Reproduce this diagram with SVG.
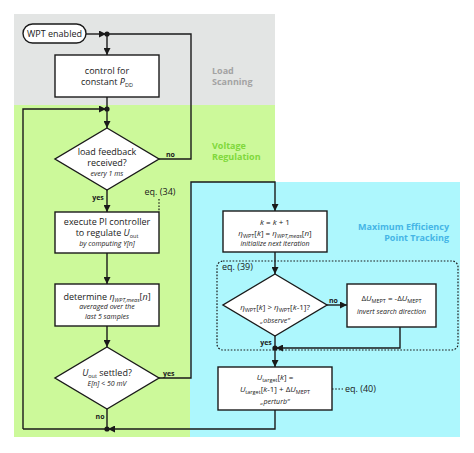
<svg xmlns="http://www.w3.org/2000/svg" width="474" height="453" viewBox="0 0 474 453">
<style>
text{font-family:"Open Sans","Noto Sans","DejaVu Sans",sans-serif;fill:#1a1a1a;font-size:9px}
.m{text-anchor:middle}
.i{font-style:italic}
.s{font-size:7px;font-style:italic}
.r{font-size:8px}
.b{font-weight:bold;font-size:7px}
.lbl{font-weight:bold;font-size:9px}
.box{fill:#fff;stroke:#1a1a1a;stroke-width:1.4}
.ln{fill:none;stroke:#1a1a1a;stroke-width:1.4}
.dot{fill:none;stroke:#1a1a1a;stroke-width:1.2;stroke-dasharray:1.6 1.6}
.sub{font-size:5.5px}
</style>
<defs>
<marker id="ah" viewBox="0 0 10 10" refX="10" refY="5" markerWidth="7" markerHeight="7" markerUnits="userSpaceOnUse" orient="auto">
<path d="M0,0L10,5L0,10z" fill="#1a1a1a"/>
</marker>
</defs>
<g id="panels">
<rect x="14" y="14" width="261" height="91" fill="#e3e5e4"/>
<path d="M14,105H275V182H190V437H14z" fill="#ccf99a"/>
<rect x="190" y="182" width="270" height="255" fill="#adf7fd"/>
<text x="212" y="74" class="lbl" fill="#a3a3a3" style="fill:#a3a3a3">Load</text>
<text x="212" y="84.5" class="lbl" style="fill:#a3a3a3">Scanning</text>
<text x="212" y="149" class="lbl" style="fill:#80d83c">Voltage</text>
<text x="212" y="160" class="lbl" style="fill:#80d83c">Regulation</text>
<text x="449" y="230" class="lbl" style="fill:#45b5e6;text-anchor:end">Maximum Efficiency</text>
<text x="449" y="241" class="lbl" style="fill:#45b5e6;text-anchor:end">Point Tracking</text>
</g>
<g id="connectors">
<path class="ln" d="M86,34H106" marker-end="url(#ah)"/>
<path class="ln" d="M159,159H191V34H107"/>
<path class="ln" d="M107,34V55" marker-end="url(#ah)"/>
<path class="ln" d="M107,97V109"/>
<path class="ln" d="M23,429V109H106" marker-end="url(#ah)"/>
<path class="ln" d="M107,109V128" marker-end="url(#ah)"/>
<path class="ln" d="M107,190V212" marker-end="url(#ah)"/>
<path class="ln" d="M107,253V284" marker-end="url(#ah)"/>
<path class="ln" d="M107,326V347" marker-end="url(#ah)"/>
<path class="ln" d="M107,409V429H23"/>
<path class="ln" d="M159,378H191V182H275V211" marker-end="url(#ah)"/>
<path class="ln" d="M275,252V274" marker-end="url(#ah)"/>
<path class="ln" d="M327,305H347" marker-end="url(#ah)"/>
<path class="ln" d="M400,327V348H276" marker-end="url(#ah)"/>
<path class="ln" d="M275,336V367" marker-end="url(#ah)"/>
<path class="ln" d="M275,410V429H108" marker-end="url(#ah)"/>
<circle cx="107" cy="34" r="2.6" fill="#1a1a1a"/>
<circle cx="107" cy="109" r="2.6" fill="#1a1a1a"/>
<circle cx="107" cy="429" r="2.6" fill="#1a1a1a"/>
<circle cx="275" cy="348" r="2.6" fill="#1a1a1a"/>
<path class="dot" d="M159,199V212"/>
<path class="dot" d="M332,389H343"/>
<rect class="dot" x="217" y="261" width="241" height="89" rx="6"/>
<text x="166" y="157" class="b">no</text>
<text x="98" y="200" class="b m">yes</text>
<text x="163" y="375.5" class="b">yes</text>
<text x="100" y="419" class="b m">no</text>
<text x="329" y="302.5" class="b">no</text>
<text x="266" y="345" class="b m">yes</text>
<text x="160" y="195" class="m">eq. (34)</text>
<text x="222" y="270">eq. (39)</text>
<text x="345" y="392">eq. (40)</text>
</g>
<g id="n-start">
<rect class="box" x="23" y="24" width="63" height="19" rx="9.5"/>
<text x="54.5" y="37" class="m">WPT enabled</text>
</g>
<g id="n-control">
<rect class="box" x="55" y="55" width="104" height="42"/>
<text x="107" y="74" class="m">control for</text>
<text x="107" y="85" class="m">constant <tspan class="i">P</tspan><tspan class="sub" dy="2">DD</tspan></text>
</g>
<g id="n-feedback">
<path class="box" d="M107,128L159,159L107,190L55,159z"/>
<text x="107" y="155" class="m">load feedback</text>
<text x="107" y="166" class="m">received?</text>
<text x="107" y="176" class="m s">every 1 ms</text>
</g>
<g id="n-pi">
<rect class="box" x="55" y="212" width="104" height="41"/>
<text x="107" y="225" class="m">execute PI controller</text>
<text x="107" y="236" class="m">to regulate <tspan class="i">U</tspan><tspan class="sub" dy="2">out</tspan></text>
<text x="107" y="246" class="m s">by computing Y[n]</text>
</g>
<g id="n-determine">
<rect class="box" x="55" y="284" width="104" height="42"/>
<text x="107" y="299.5" class="m">determine <tspan class="i">η</tspan><tspan class="sub i" dy="2">WPT,meas</tspan><tspan dy="-2">[</tspan><tspan class="i">n</tspan>]</text>
<text x="107" y="308.5" class="m s">averaged over the</text>
<text x="107" y="318.5" class="m s">last 5 samples</text>
</g>
<g id="n-settled">
<path class="box" d="M107,347L159,378L107,409L55,378z"/>
<text x="107" y="376" class="m"><tspan class="i">U</tspan><tspan class="sub" dy="2">out</tspan><tspan dy="-2"> settled?</tspan></text>
<text x="107" y="386" class="m s">E[n] &lt; 50 mV</text>
</g>
<g id="n-init">
<rect class="box" x="223" y="211" width="104" height="41"/>
<text x="275" y="225" class="m r"><tspan class="i">k</tspan> = <tspan class="i">k</tspan> + 1</text>
<text x="275" y="236" class="m r"><tspan class="i">η</tspan><tspan class="sub" dy="2">WPT</tspan><tspan dy="-2">[</tspan><tspan class="i">k</tspan>] = <tspan class="i">η</tspan><tspan class="sub i" dy="2">WPT,meas</tspan><tspan dy="-2">[</tspan><tspan class="i">n</tspan>]</text>
<text x="275" y="246" class="m s">initialize next iteration</text>
</g>
<g id="n-observe">
<path class="box" d="M275,274L327,305L275,336L223,305z"/>
<text x="275" y="310" class="m r"><tspan class="i">η</tspan><tspan class="sub" dy="2">WPT</tspan><tspan dy="-2">[</tspan><tspan class="i">k</tspan>] &gt; <tspan class="i">η</tspan><tspan class="sub" dy="2">WPT</tspan><tspan dy="-2">[</tspan><tspan class="i">k</tspan>-1]?</text>
<text x="275" y="323" class="m s">„observe“</text>
</g>
<g id="n-invert">
<rect class="box" x="347" y="284" width="89" height="43"/>
<text x="391.5" y="301" class="m r">Δ<tspan class="i">U</tspan><tspan class="sub" dy="2">MEPT</tspan><tspan dy="-2"> = -Δ</tspan><tspan class="i">U</tspan><tspan class="sub" dy="2">MEPT</tspan></text>
<text x="391.5" y="314" class="m s">invert search direction</text>
</g>
<g id="n-perturb">
<rect class="box" x="218" y="367" width="114" height="43"/>
<text x="275" y="380" class="m r"><tspan class="i">U</tspan><tspan class="sub" dy="2">target</tspan><tspan dy="-2">[</tspan><tspan class="i">k</tspan>] =</text>
<text x="275" y="392" class="m r"><tspan class="i">U</tspan><tspan class="sub" dy="2">target</tspan><tspan dy="-2">[</tspan><tspan class="i">k</tspan>-1] + Δ<tspan class="i">U</tspan><tspan class="sub" dy="2">MEPT</tspan></text>
<text x="275" y="404" class="m s">„perturb“</text>
</g>
</svg>
